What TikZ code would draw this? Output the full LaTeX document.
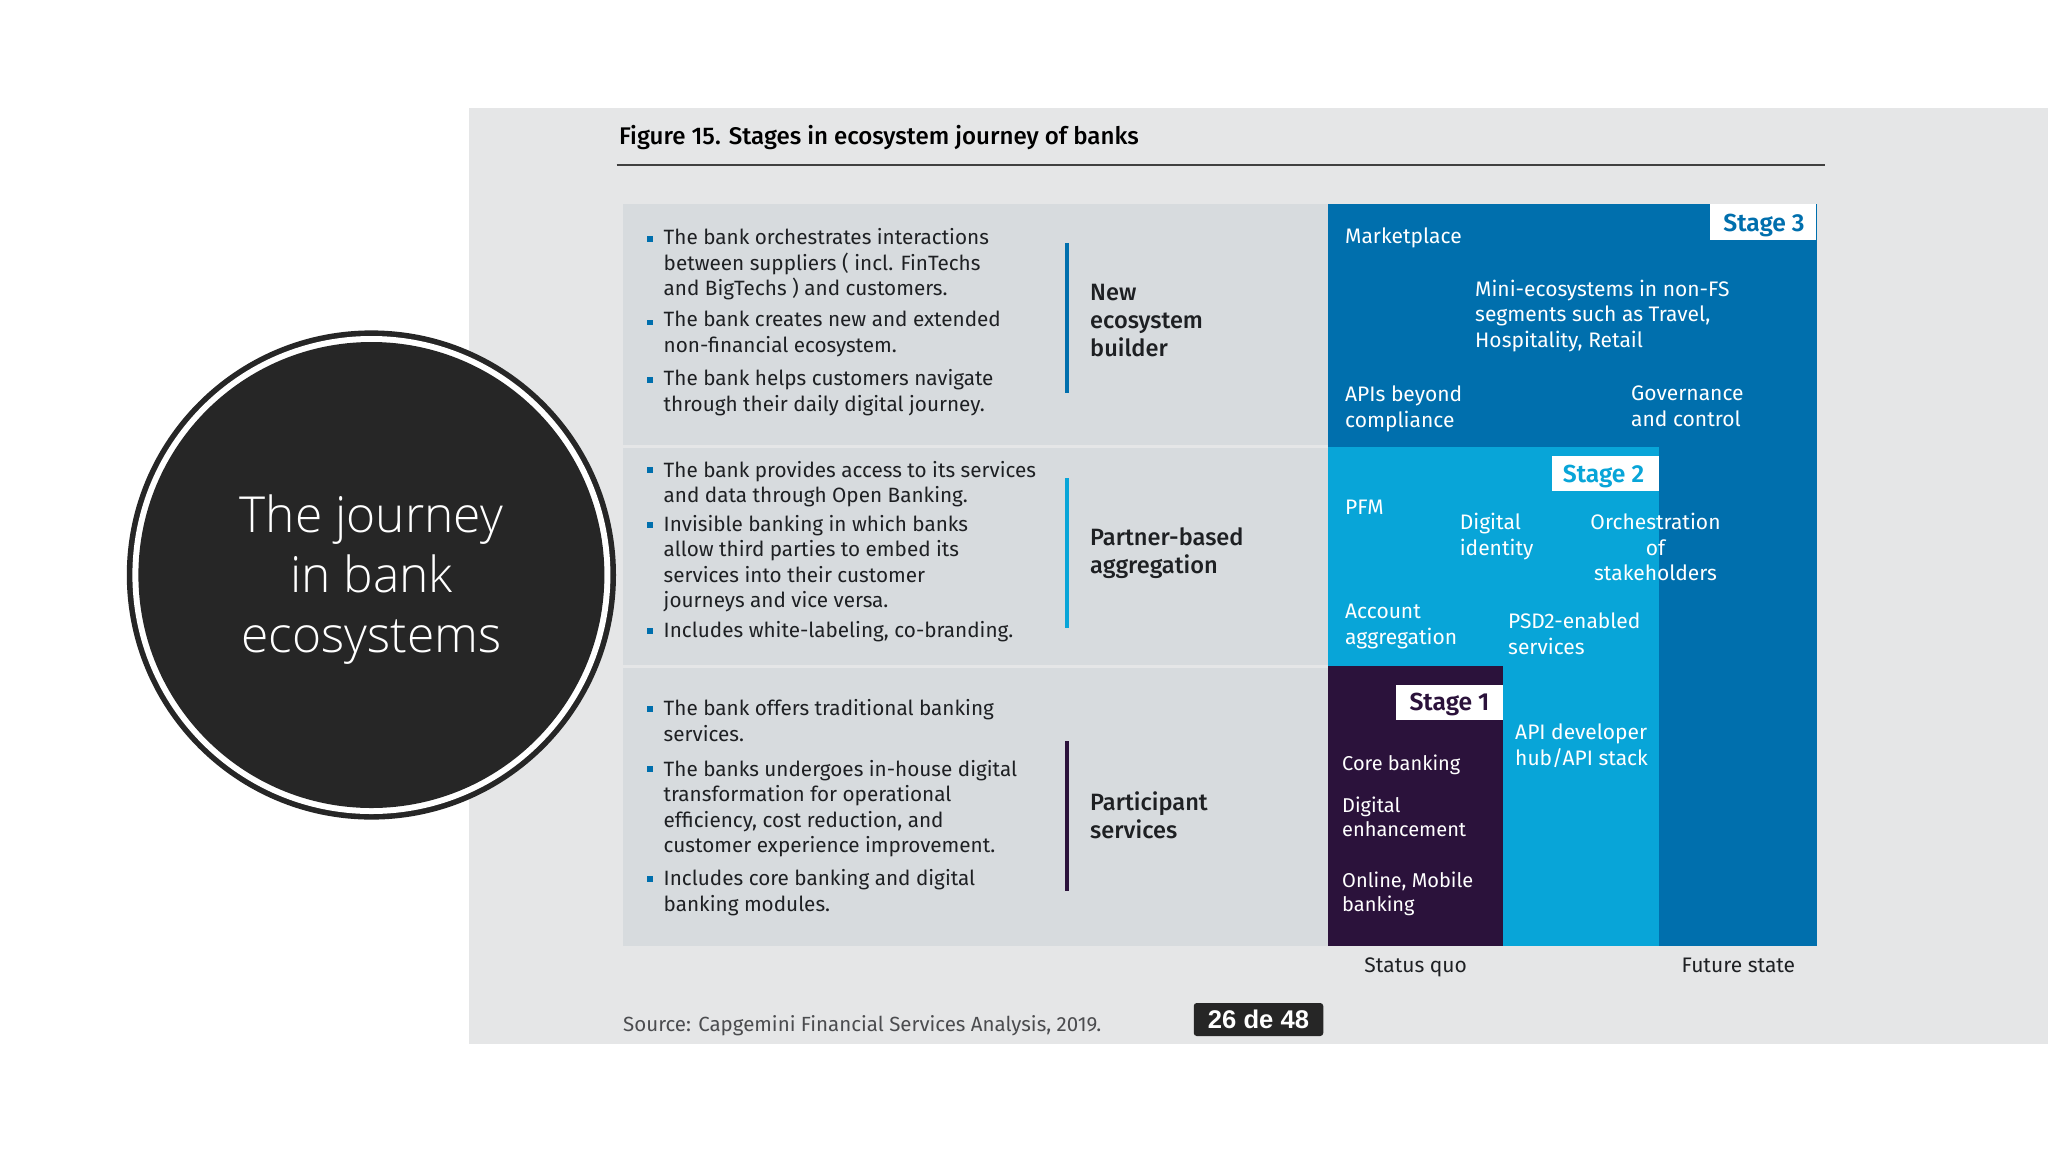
\documentclass[tikz,border=0pt]{standalone}
\usepackage{fontspec}
\setmainfont{Fira Sans}[BoldFont={Fira Sans Medium}]
\newfontfamily\stagefont{Fira Sans SemiBold}
\newfontfamily\thinfont{Open Sans Light}
\newfontfamily\badgefont{Liberation Sans}
\definecolor{panelgray}{HTML}{E5E6E7}
\definecolor{rowgray}{HTML}{D7DBDE}
\definecolor{inkdark}{HTML}{1E2023}
\definecolor{circdark}{HTML}{262626}
\definecolor{stageone}{HTML}{2B123B}
\definecolor{stagetwo}{HTML}{08A5D8}
\definecolor{stagethree}{HTML}{006FAD}
\tikzset{
  itemtext/.style={anchor=west, inner sep=0, align=left, text=inkdark, font=\fontsize{20.7}{25.6}\selectfont},
  itembox/.style={fill=stagethree, inner sep=0, minimum size=5.5pt},
  levellabel/.style={anchor=west, inner sep=0, align=left, text=inkdark, font=\fontsize{23.6}{28}\selectfont\bfseries},
  whitetext/.style={anchor=west, inner sep=0, align=left, text=white, font=\fontsize{21}{25.6}\selectfont},
  stagetext/.style={anchor=west, inner sep=0, align=left, text=white, font=\fontsize{20}{24}\selectfont},
  stagebox/.style={fill=white, inner sep=0, font=\stagefont\fontsize{24.6}{26}\selectfont},
  axistext/.style={anchor=base, inner sep=0, text=inkdark, font=\fontsize{21}{24}\selectfont},
}
\begin{document}
\begin{tikzpicture}[x=1pt,y=-1pt]
\useasboundingbox (0,0) rectangle (2048,1152);
\fill[white] (0,0) rectangle (2048,1152);
\fill[panelgray] (469,108) rectangle (2048,1043.5);
\node[anchor=west, inner sep=0, text=black, font=\fontsize{24.1}{26}\selectfont\bfseries] (title) at (619,137.8) {Figure 15. Stages in ecosystem journey of banks};
\draw[line width=1.8pt, color=black!75] (616.5,165) -- (1825,165);

\fill[rowgray] (623,204) rectangle (1328,445);
\fill[rowgray] (623,447.5) rectangle (1328,665);
\fill[rowgray] (623,667.5) rectangle (1328,946);

\fill[stagethree] (1328,204) rectangle (1817,946);
\fill[stagetwo] (1328,446.5) rectangle (1658.5,946);
\fill[stageone] (1328,666) rectangle (1503,946);

\fill[stagethree] (1065,243) rectangle (1069,393);
\fill[stagetwo] (1065,478) rectangle (1069,628);
\fill[stageone] (1065,740.5) rectangle (1069,891);

\node[itembox] (itemA) at (650,239) {}; \node[itemtext] (textA) at (663.5,264.5) {The bank orchestrates interactions\\between suppliers ( incl. FinTechs\\and BigTechs ) and customers.};
\node[itembox] (itemB) at (650,322.6) {}; \node[itemtext] (textB) at (663.5,334) {The bank creates new and extended\\non-financial ecosystem.};
\node[itembox] (itemC) at (650,380) {}; \node[itemtext] (textC) at (663.5,392.5) {The bank helps customers navigate\\through their daily digital journey.};
\node[itembox] (itemD) at (650,470) {}; \node[itemtext] (textD) at (663.5,484.2) {The bank provides access to its services\\and data through Open Banking.};
\node[itembox] (itemE) at (650,525) {}; \node[itemtext] (textE) at (663.5,563.6) {Invisible banking in which banks\\allow third parties to embed its\\services into their customer\\journeys and vice versa.};
\node[itembox] (itemF) at (650,631) {}; \node[itemtext] (textF) at (663.5,632.1) {Includes white-labeling, co-branding.};
\node[itembox] (itemG) at (650,709) {}; \node[itemtext] (textG) at (663.5,720.4) {The bank offers traditional banking\\services.};
\node[itembox] (itemH) at (650,769) {}; \node[itemtext] (textH) at (663.5,808.6) {The banks undergoes in-house digital\\transformation for operational\\efficiency, cost reduction, and\\customer experience improvement.};
\node[itembox] (itemI) at (650,879) {}; \node[itemtext] (textI) at (663.5,892.7) {Includes core banking and digital\\banking modules.};

\node[levellabel] (builder) at (1090,321) {New\\ecosystem\\builder};
\node[levellabel] (partner) at (1090,553.5) {Partner-based\\aggregation};
\node[levellabel] (participant) at (1090,815) {Participant\\services};

\node[stagebox, text=stagethree, minimum width=106pt, minimum height=36pt] (stageC) at (1763,222) {\hspace*{2pt}\raisebox{-9.5pt}[10pt][10pt]{Stage 3}};
\node[stagebox, text=stagetwo, minimum width=107pt, minimum height=35pt] (stageB) at (1605,473.5) {\raisebox{-8.5pt}[10pt][10pt]{Stage 2}\hspace*{3pt}};
\node[stagebox, text=stageone, minimum width=107pt, minimum height=35pt] (stageA) at (1449.5,702) {\raisebox{-8.5pt}[10pt][10pt]{Stage 1}};

\node[whitetext] (market) at (1345,237.5) {Marketplace};
\node[whitetext] (mini) at (1475,316) {Mini-ecosystems in non-FS\\segments such as Travel,\\Hospitality, Retail};
\node[whitetext] (apis) at (1345,409) {APIs beyond\\compliance};
\node[whitetext] (gov) at (1631,406.2) {Governance\\and control};
\node[whitetext] (pfm) at (1345,507) {PFM};
\node[whitetext] (ident) at (1459.6,536.5) {Digital\\identity};
\node[whitetext, anchor=center, align=center] (orch) at (1655.5,547) {Orchestration\\of\\stakeholders};
\node[whitetext] (account) at (1345,626.6) {Account\\aggregation};
\node[whitetext] (psd) at (1508,634) {PSD2-enabled\\services};
\node[whitetext] (hub) at (1515,746) {API developer\\hub/API stack};

\node[stagetext] (core) at (1342,765.3) {Core banking};
\node[stagetext] (enhance) at (1342,816.5) {Digital\\enhancement};
\node[stagetext] (online) at (1342,894.3) {Online, Mobile\\banking};

\node[axistext] (quo) at (1415.7,972) {Status quo};
\node[axistext] (future) at (1738.4,972) {Future state};
\node[anchor=west, inner sep=0, text=inkdark!80, font=\fontsize{20.5}{24}\selectfont] (source) at (623,1025.3) {Source: Capgemini Financial Services Analysis, 2019.};
\node[fill=circdark, rounded corners=3pt, inner sep=0, minimum width=129.5pt, minimum height=33pt, text=white, font=\badgefont\bfseries\fontsize{25.6}{28}\selectfont] (badge) at (1258.5,1019.5) {26 de 48};

\fill[circdark] (371.4,575) circle (244.6);
\fill[white] (371.4,575) circle (239);
\fill[circdark] (371.4,575) circle (233);
\node[inner sep=0, align=center, text=white, font=\thinfont\fontsize{49.7}{60}\selectfont] (headline) at (371.4,579.3) {The journey\\in bank\\ecosystems};
\end{tikzpicture}
\end{document}
